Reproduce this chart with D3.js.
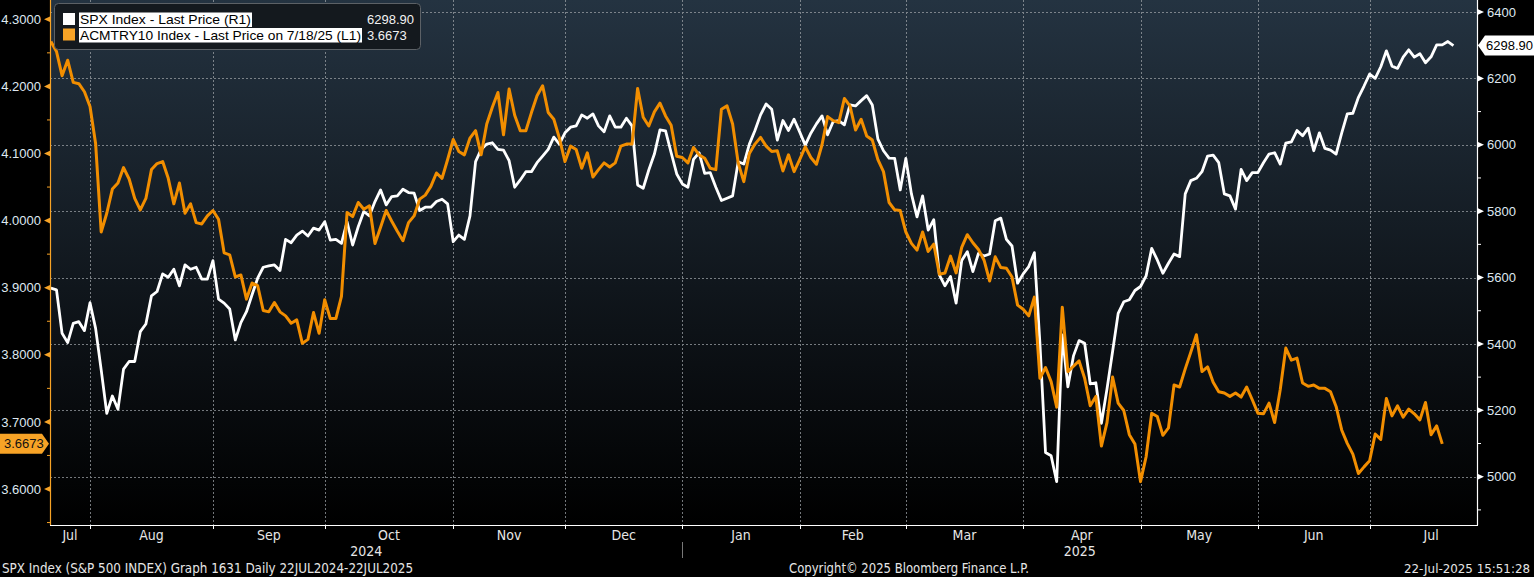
<!DOCTYPE html>
<html><head><meta charset="utf-8">
<script src="https://cdn.jsdelivr.net/npm/d3@7"></script>
<style>html,body{margin:0;padding:0;background:#000;overflow:hidden}</style>
</head><body><svg id="c" width="1534" height="577"></svg>
<script>
// ---------- DATA ----------
const startDate = "2024-07-22";
const calendarEnd = "2025-08-02";
const holidays = ["2024-09-02","2024-11-28","2024-12-25","2025-01-01","2025-01-20","2025-02-17","2025-04-18","2025-05-26","2025-06-19","2025-07-04"];

// SPX Index - Last Price, daily from 22 Jul 2024 (right axis)
const spxValues = [
5568,5563,5432,5404,5462,5467,5440,5524,5447,5322,
5191,5243,5203,5324,5347,5347,5437,5460,5545,5558,
5611,5601,5625,5575,5638,5625,5631,5595,5595,5651,
5535,5523,5505,5412,5464,5497,5548,5598,5631,5635,
5638,5621,5715,5705,5728,5740,5725,5749,5743,5768,
5713,5715,5703,5768,5698,5753,5799,5786,5829,5864,
5819,5844,5846,5866,5856,5854,5802,5812,5812,5829,
5836,5822,5708,5728,5715,5786,5949,5986,6002,6006,
5986,5984,5952,5872,5894,5919,5919,5946,5966,5986,
6023,6002,6036,6053,6057,6090,6080,6093,6057,6039,
6087,6053,6053,6080,6057,5879,5869,5924,5972,6045,
6042,5976,5912,5882,5872,5956,5976,5914,5916,5872,
5832,5839,5846,5949,5942,6002,6043,6090,6123,6107,
6014,6073,6043,6077,6039,5999,6035,6063,6087,6030,
6070,6073,6060,6120,6117,6133,6148,6120,6017,5982,
5960,5959,5864,5959,5852,5783,5846,5743,5774,5608,
5575,5603,5523,5651,5678,5618,5673,5665,5671,5771,
5779,5715,5695,5583,5611,5633,5675,5400,5073,5063,
4985,5427,5271,5364,5410,5402,5280,5283,5161,5264,
5377,5492,5527,5533,5561,5573,5605,5688,5653,5613,
5643,5671,5663,5852,5892,5899,5919,5966,5969,5946,
5852,5846,5806,5926,5892,5916,5916,5946,5972,5976,
5942,6005,6009,6043,6027,6050,5982,6036,5989,5984,
5972,6035,6093,6095,6143,6177,6213,6200,6235,6283,
6237,6230,6264,6286,6264,6274,6247,6265,6301,6301,
6311,6298.90];

// ACMTRY10 Index - Last Price, daily from 22 Jul 2024 to 18 Jul 2025 (left axis)
const acmValues = [
4.267,4.252,4.216,4.239,4.206,4.204,4.192,4.170,4.115,3.983,
4.011,4.047,4.056,4.079,4.062,4.033,4.016,4.033,4.076,4.085,
4.088,4.063,4.025,4.056,4.011,4.025,3.997,3.995,4.007,4.015,
4.002,3.952,3.949,3.916,3.919,3.883,3.907,3.903,3.866,3.864,
3.878,3.864,3.858,3.847,3.852,3.817,3.823,3.863,3.832,3.882,
3.854,3.854,3.887,4.012,4.006,4.027,4.017,4.022,3.966,3.990,
4.015,3.999,3.984,3.970,3.997,4.007,4.032,4.038,4.051,4.071,
4.063,4.091,4.121,4.103,4.098,4.123,4.134,4.098,4.144,4.169,
4.191,4.128,4.196,4.157,4.134,4.134,4.161,4.186,4.201,4.161,
4.151,4.123,4.088,4.111,4.106,4.078,4.101,4.065,4.076,4.086,
4.080,4.086,4.111,4.114,4.114,4.197,4.154,4.141,4.162,4.175,
4.156,4.142,4.096,4.094,4.086,4.109,4.098,4.093,4.078,4.076,
4.166,4.171,4.144,4.086,4.058,4.100,4.114,4.124,4.111,4.103,
4.104,4.074,4.098,4.073,4.091,4.110,4.094,4.084,4.113,4.155,
4.149,4.146,4.182,4.171,4.135,4.151,4.126,4.120,4.091,4.073,
4.027,4.016,4.015,3.983,3.966,3.956,3.983,3.954,3.965,3.920,
3.922,3.947,3.922,3.960,3.979,3.967,3.957,3.941,3.910,3.946,
3.930,3.929,3.916,3.874,3.868,3.858,3.886,3.765,3.781,3.760,
3.722,3.871,3.775,3.783,3.791,3.765,3.724,3.738,3.664,3.699,
3.767,3.728,3.717,3.681,3.667,3.611,3.648,3.713,3.708,3.680,
3.691,3.755,3.752,3.779,3.804,3.830,3.775,3.782,3.759,3.745,
3.743,3.738,3.743,3.737,3.752,3.733,3.713,3.712,3.728,3.699,
3.748,3.810,3.792,3.795,3.758,3.753,3.755,3.750,3.750,3.745,
3.723,3.688,3.668,3.652,3.623,3.633,3.642,3.682,3.674,3.735,
3.709,3.724,3.707,3.719,3.712,3.703,3.729,3.681,3.694,3.6673];

const spxLastText = "6298.90";
const acmLastText = "3.6673";
const leftTicks = [3.6,3.7,3.8,3.9,4.0,4.1,4.2,4.3];
const leftMinor = [3.55,3.65,3.75,3.85,3.95,4.05,4.15,4.25];
const rightTicks = [5000,5200,5400,5600,5800,6000,6200,6400];
const rightMinor = [4900,5100,5300,5500,5700,5900,6100,6300];
const monthLabels = ["Jul","Aug","Sep","Oct","Nov","Dec","Jan","Feb","Mar","Apr","May","Jun","Jul"];
const yearLabels = ["2024","2025"];
const legendNames = ["SPX Index - Last Price (R1)","ACMTRY10 Index - Last Price on 7/18/25 (L1)"];
const footerLeft = "SPX Index (S&P 500 INDEX) Graph 1631  Daily 22JUL2024-22JUL2025";
const footerMid = "Copyright\u00A9 2025 Bloomberg Finance L.P.";
const footerRight = "22-Jul-2025 15:51:28";

// ---------- SETUP ----------
const W = 1534, H = 577;
const P = {l: 50, r: 1477, t: 0, b: 525};
const WHITE = "#ffffff", ORANGE = "#f28e00", ORANGE_L = "#f7a326";
const FONT = "'Liberation Sans', Arial, sans-serif";
const NARROW = "'Liberation Sans Narrow','DejaVu Sans Condensed','Liberation Sans',sans-serif";

const parse = d3.utcParse("%Y-%m-%d"), fmt = d3.utcFormat("%Y-%m-%d");
const hol = new Set(holidays);
const days = d3.utcDay.range(parse(startDate), parse(calendarEnd))
  .filter(d => d.getUTCDay() % 6 !== 0 && !hol.has(fmt(d)));

const x = d3.scaleLinear().domain([0, 251]).range([50.9, 50.9 + 251 * 5.5878]);
const yR = d3.scaleLinear().domain([5000, 6400]).range([476.7, 12]);
const yL = d3.scaleLinear().domain([3.6, 4.3]).range([489, 19.3]);

const svg = d3.select("#c");
const defs = svg.append("defs");
const g = defs.append("linearGradient").attr("id","bg").attr("x1",0).attr("y1",0).attr("x2",0).attr("y2",1);
g.append("stop").attr("offset","0%").attr("stop-color","#243341");
g.append("stop").attr("offset","55%").attr("stop-color","#10161c");
g.append("stop").attr("offset","100%").attr("stop-color","#000000");
defs.append("clipPath").attr("id","clip").append("rect")
  .attr("x",P.l).attr("y",P.t).attr("width",P.r-P.l).attr("height",P.b-P.t);

svg.append("rect").attr("width",W).attr("height",H).attr("fill","#000");
svg.append("rect").attr("x",P.l).attr("y",P.t).attr("width",P.r-P.l).attr("height",P.b-P.t).attr("fill","url(#bg)");

// month boundaries
const monthStarts = [];
days.forEach((d,i) => { if (i > 0 && d.getUTCMonth() !== days[i-1].getUTCMonth()) monthStarts.push(i); });
const bounds = monthStarts.map(i => x(i - 1));

// grid
const grid = svg.append("g").attr("stroke","#9a9fa4").attr("stroke-width",1).attr("stroke-dasharray","2,2").attr("opacity",0.75);
grid.selectAll("line.h").data(rightTicks).join("line").attr("class","h")
  .attr("x1",P.l).attr("x2",P.r).attr("y1",d=>Math.round(yR(d))+0.5).attr("y2",d=>Math.round(yR(d))+0.5);
grid.selectAll("line.v").data(bounds.filter(b => b < P.r)).join("line").attr("class","v")
  .attr("y1",P.t).attr("y2",P.b).attr("x1",d=>Math.round(d)+0.5).attr("x2",d=>Math.round(d)+0.5);

// series
const spxData = spxValues.map((v,i) => ({i, date: days[i], v}));
const acmData = acmValues.map((v,i) => ({i, date: days[i], v}));
const lines = svg.append("g").attr("clip-path","url(#clip)");
lines.append("path").datum(spxData)
  .attr("fill","none").attr("stroke",WHITE).attr("stroke-width",2.8).attr("stroke-linejoin","round")
  .attr("d", d3.line().x(d=>x(d.i)).y(d=>yR(d.v)));
lines.append("path").datum(acmData)
  .attr("fill","none").attr("stroke",ORANGE).attr("stroke-width",3).attr("stroke-linejoin","round")
  .attr("d", d3.line().x(d=>x(d.i)).y(d=>yL(d.v)));

// ---------- AXES ----------
// left axis
svg.append("line").attr("x1",P.l+0.5).attr("x2",P.l+0.5).attr("y1",P.t).attr("y2",P.b).attr("stroke",ORANGE_L).attr("stroke-width",1.2);
const la = svg.append("g").attr("transform",`translate(${P.l},0)`)
  .call(d3.axisLeft(yL).tickValues(leftTicks).tickFormat(d3.format(".4f")).tickSize(0).tickPadding(9));
la.select(".domain").remove();
la.selectAll("text").attr("fill","#dfe8f0").attr("font-family",FONT).attr("font-size",13);
svg.append("g").selectAll("path").data(leftTicks).join("path")
  .attr("d", d => `M${P.l},${yL(d)-2.8}L${P.l-6},${yL(d)}L${P.l},${yL(d)+2.8}Z`).attr("fill",ORANGE_L);
svg.append("g").selectAll("line").data(leftMinor).join("line")
  .attr("x1",P.l-3).attr("x2",P.l).attr("y1",d=>yL(d)).attr("y2",d=>yL(d)).attr("stroke",ORANGE_L).attr("stroke-width",1);

// right axis
svg.append("line").attr("x1",P.r+0.5).attr("x2",P.r+0.5).attr("y1",P.t).attr("y2",P.b).attr("stroke","#fff").attr("stroke-width",1.2);
const ra = svg.append("g").attr("transform",`translate(${P.r},0)`)
  .call(d3.axisRight(yR).tickValues(rightTicks).tickFormat(d3.format("d")).tickSize(0).tickPadding(10));
ra.select(".domain").remove();
ra.selectAll("text").attr("fill","#dfe8f0").attr("font-family",FONT).attr("font-size",13);
svg.append("g").selectAll("path").data(rightTicks).join("path")
  .attr("d", d => `M${P.r+1},${yR(d)-2.8}L${P.r+7},${yR(d)}L${P.r+1},${yR(d)+2.8}Z`).attr("fill","#fff");
svg.append("g").selectAll("line").data(rightMinor).join("line")
  .attr("x1",P.r).attr("x2",P.r+4).attr("y1",d=>yR(d)).attr("y2",d=>yR(d)).attr("stroke","#fff").attr("stroke-width",1);

// bottom axis
svg.append("line").attr("x1",P.l).attr("x2",P.r+1).attr("y1",P.b+0.5).attr("y2",P.b+0.5).attr("stroke","#fff").attr("stroke-width",1.2);
svg.append("g").selectAll("line").data(bounds.filter(b => b < P.r)).join("line")
  .attr("x1",d=>Math.round(d)+0.5).attr("x2",d=>Math.round(d)+0.5).attr("y1",P.b).attr("y2",P.b+4)
  .attr("stroke","#fff").attr("stroke-width",1);
const spans = [[P.l, bounds[0]]].concat(bounds.slice(0,-1).map((b,k)=>[b, bounds[k+1]]));
svg.append("g").selectAll("text").data(monthLabels).join("text")
  .attr("x",(d,k)=>(spans[k][0]+spans[k][1])/2).attr("y",540)
  .attr("text-anchor","middle").attr("fill","#e6e6e6").attr("font-family",NARROW).attr("font-size",14)
  .text(d=>d);
const janIdx = monthStarts.find(i => days[i].getUTCMonth() === 0);
const janB = x(janIdx - 1);
const ySpans = [[P.l, janB],[janB, P.r]];
svg.append("g").selectAll("text").data(yearLabels).join("text")
  .attr("x",(d,k)=>(ySpans[k][0]+ySpans[k][1])/2).attr("y",556)
  .attr("text-anchor","middle").attr("fill","#e6e6e6").attr("font-family",NARROW).attr("font-size",14)
  .text(d=>d);
svg.append("line").attr("x1",Math.round(janB)+0.5).attr("x2",Math.round(janB)+0.5).attr("y1",542).attr("y2",558)
  .attr("stroke","#777").attr("stroke-width",1);

// ---------- VALUE LABELS ----------
const ys = yR(spxValues[spxValues.length-1]);
svg.append("path").attr("d",`M${P.r+1},${ys}L${P.r+8},${ys-10}L${W},${ys-10}L${W},${ys+10}L${P.r+8},${ys+10}Z`).attr("fill","#fff");
svg.append("text").attr("x",P.r+9).attr("y",ys+4.6).attr("fill","#000").attr("font-family",FONT).attr("font-size",13).text(spxLastText);
const yl = yL(acmValues[acmValues.length-1]);
svg.append("path").attr("d",`M0,${yl-10}L${P.l-8},${yl-10}L${P.l-1},${yl}L${P.l-8},${yl+10}L0,${yl+10}Z`).attr("fill",ORANGE_L);
svg.append("text").attr("x",4).attr("y",yl+4.6).attr("fill","#111").attr("font-family",FONT).attr("font-size",13).text(acmLastText);

// ---------- LEGEND ----------
const lg = svg.append("g");
lg.append("rect").attr("x",54.5).attr("y",3.5).attr("width",366).attr("height",46).attr("rx",4)
  .attr("fill","#14191e").attr("stroke","#5c6166").attr("stroke-width",1);
const legendColors = [WHITE, ORANGE_L];
const legendVals = [spxLastText, acmLastText];
const legendW = [171, 281];
legendNames.forEach((name,k) => {
  const y0 = 13 + k*15.5;
  lg.append("rect").attr("x",63).attr("y",y0).attr("width",12).attr("height",12).attr("fill",legendColors[k]);
  lg.append("rect").attr("x",79).attr("y",y0-0.5).attr("width",legendW[k]+2).attr("height",14.5).attr("fill","#fff");
  lg.append("text").attr("x",80).attr("y",y0+11).attr("fill","#000").attr("font-family",FONT).attr("font-size",13.5)
    .attr("textLength",legendW[k]).attr("lengthAdjust","spacingAndGlyphs").text(name);
  lg.append("text").attr("x",367).attr("y",y0+11).attr("fill","#f2f2f2").attr("font-family",FONT).attr("font-size",13)
    .text(legendVals[k]);
});

// ---------- FOOTER ----------
const ft = svg.append("g").attr("fill","#e6e6e6").attr("font-family",NARROW).attr("font-size",14);
ft.append("text").attr("x",2).attr("y",573).attr("textLength",411).attr("lengthAdjust","spacingAndGlyphs").text(footerLeft);
ft.append("text").attr("x",789).attr("y",573).attr("textLength",240).attr("lengthAdjust","spacingAndGlyphs").text(footerMid);
ft.append("text").attr("x",1530).attr("y",573).attr("text-anchor","end").attr("font-size",13)
  .attr("textLength",126).attr("lengthAdjust","spacingAndGlyphs").text(footerRight);
</script>
</body></html>
